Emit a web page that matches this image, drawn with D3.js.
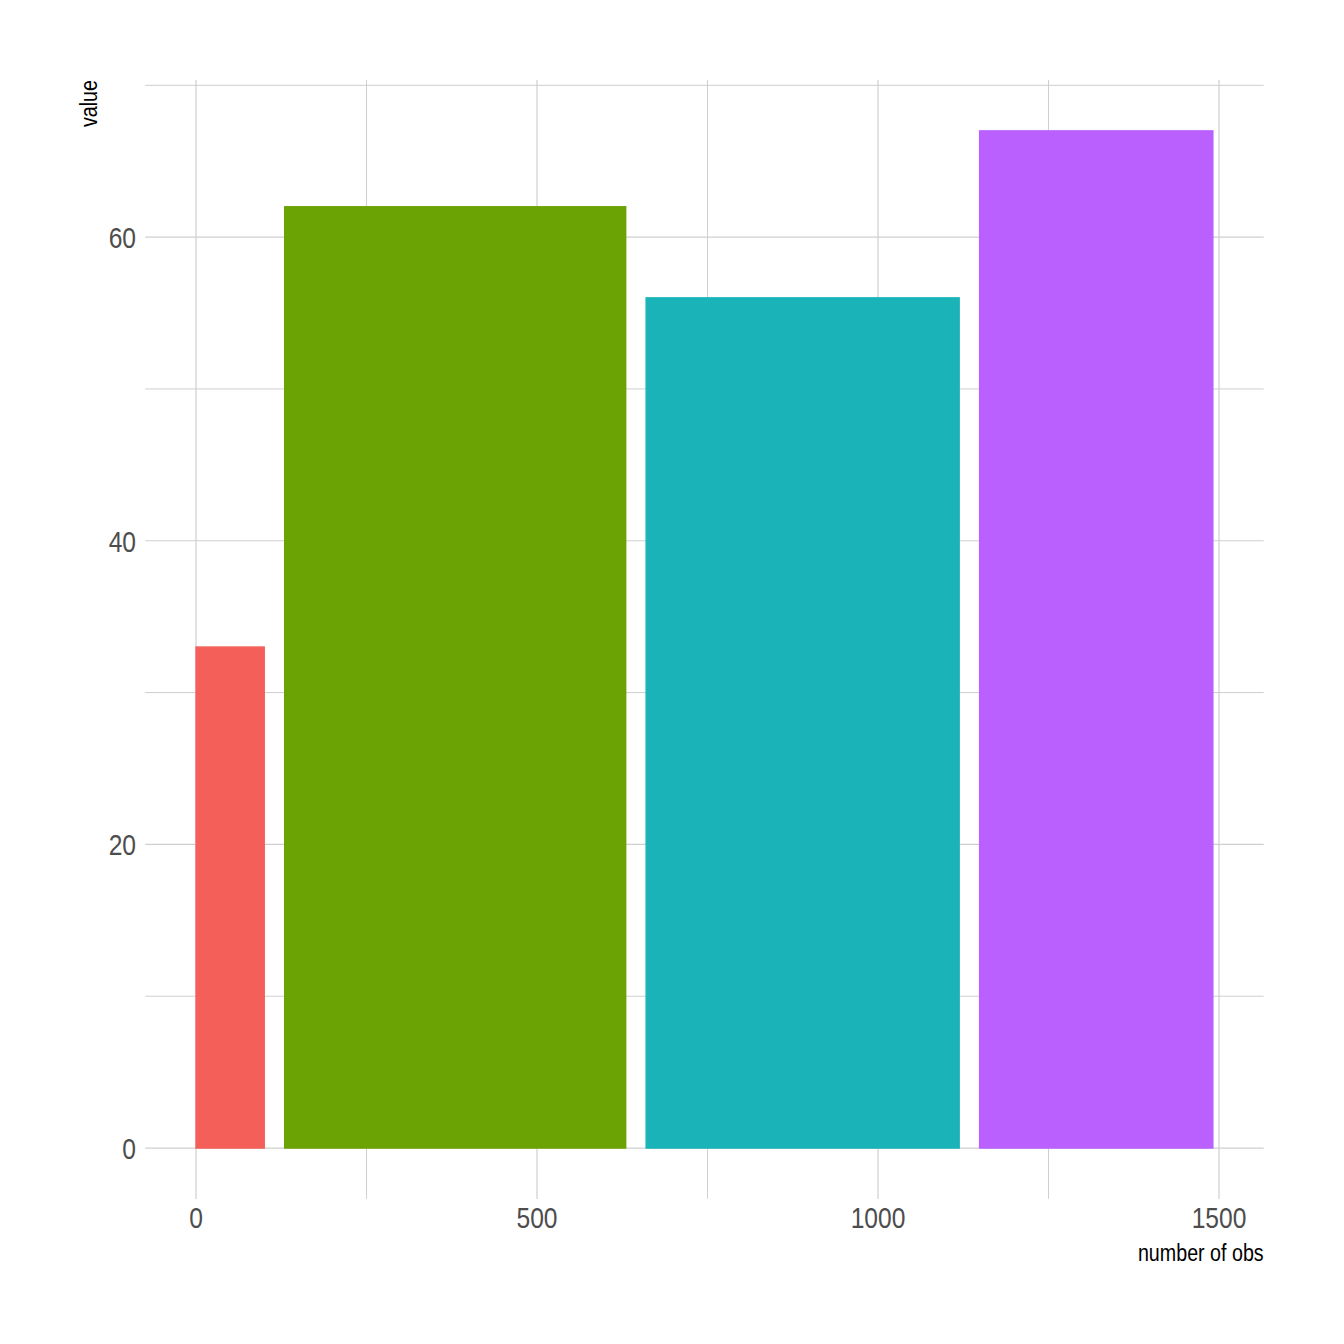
<!DOCTYPE html>
<html><head><meta charset="utf-8">
<script src="https://cdn.jsdelivr.net/npm/d3@7"></script>
<style>body{margin:0;background:#fff}</style>
</head><body>
<svg id="c" width="1344" height="1344"></svg>
<script>
const groups = ["A", "B", "C", "D"];
const values = [33, 62, 56, 67];
const numberOfObs = [100, 500, 459, 342];
const barColors = ["#F45F5A", "#6BA304", "#19B3B8", "#B960FE"];
const xTicks = [0, 500, 1000, 1500];
const xMinor = [250, 750, 1250];
const yTicks = [0, 20, 40, 60];
const yMinor = [10, 30, 50, 70];

// compute rect boundaries (gap of 30 between bars)
let cum = 0;
const data = groups.map((g, i) => {
  cum += numberOfObs[i];
  const right = cum + 30 * i;
  return {group: g, value: values[i], left: right - numberOfObs[i], right: right, color: barColors[i]};
});

const font = "'Liberation Sans','Arial',sans-serif";
const narrow = 0.82;
const svg = d3.select("#c");
const x = d3.scaleLinear().domain([-74.55, 1565.55]).range([145.2, 1263.7]);
const y = d3.scaleLinear().domain([-3.35, 70.35]).range([1198.9, 80]);
const grid = "#cfcfcf";

const g = svg.append("g");
g.selectAll(".vmin").data(xMinor).join("line")
  .attr("x1", d => x(d)).attr("x2", d => x(d)).attr("y1", y.range()[0]).attr("y2", y.range()[1])
  .attr("stroke", grid).attr("stroke-width", 1);
g.selectAll(".hmin").data(yMinor).join("line")
  .attr("y1", d => y(d)).attr("y2", d => y(d)).attr("x1", x.range()[0]).attr("x2", x.range()[1])
  .attr("stroke", grid).attr("stroke-width", 1);
g.selectAll(".vmaj").data(xTicks).join("line")
  .attr("x1", d => x(d)).attr("x2", d => x(d)).attr("y1", y.range()[0]).attr("y2", y.range()[1])
  .attr("stroke", grid).attr("stroke-width", 1.2);
g.selectAll(".hmaj").data(yTicks).join("line")
  .attr("y1", d => y(d)).attr("y2", d => y(d)).attr("x1", x.range()[0]).attr("x2", x.range()[1])
  .attr("stroke", grid).attr("stroke-width", 1.2);

g.selectAll(".bar").data(data).join("rect")
  .attr("x", d => x(d.left)).attr("width", d => x(d.right) - x(d.left))
  .attr("y", d => y(d.value)).attr("height", d => y(0) - y(d.value))
  .attr("fill", d => d.color).attr("stroke", d => d.color).attr("stroke-width", 1.4);

// tick labels (narrow via horizontal scaling)
svg.selectAll(".xt").data(xTicks).join("text")
  .attr("transform", d => `translate(${x(d)},1228) scale(${narrow},1)`).attr("text-anchor", "middle")
  .attr("font-family", font).attr("font-size", 30).attr("fill", "#4d4d4d").text(d => d);
svg.selectAll(".yt").data(yTicks).join("text")
  .attr("transform", d => `translate(136,${y(d) + 11}) scale(${narrow},1)`).attr("text-anchor", "end")
  .attr("font-family", font).attr("font-size", 30).attr("fill", "#4d4d4d").text(d => d);

svg.append("text").attr("transform", `translate(1263.7,1261) scale(${narrow},1)`).attr("text-anchor", "end")
  .attr("font-family", font).attr("font-size", 24).attr("fill", "#000").text("number of obs");
svg.append("text").attr("transform", `translate(97,80) rotate(-90) scale(${narrow},1)`).attr("text-anchor", "end")
  .attr("font-family", font).attr("font-size", 24).attr("fill", "#000").text("value");
</script>
</body></html>
